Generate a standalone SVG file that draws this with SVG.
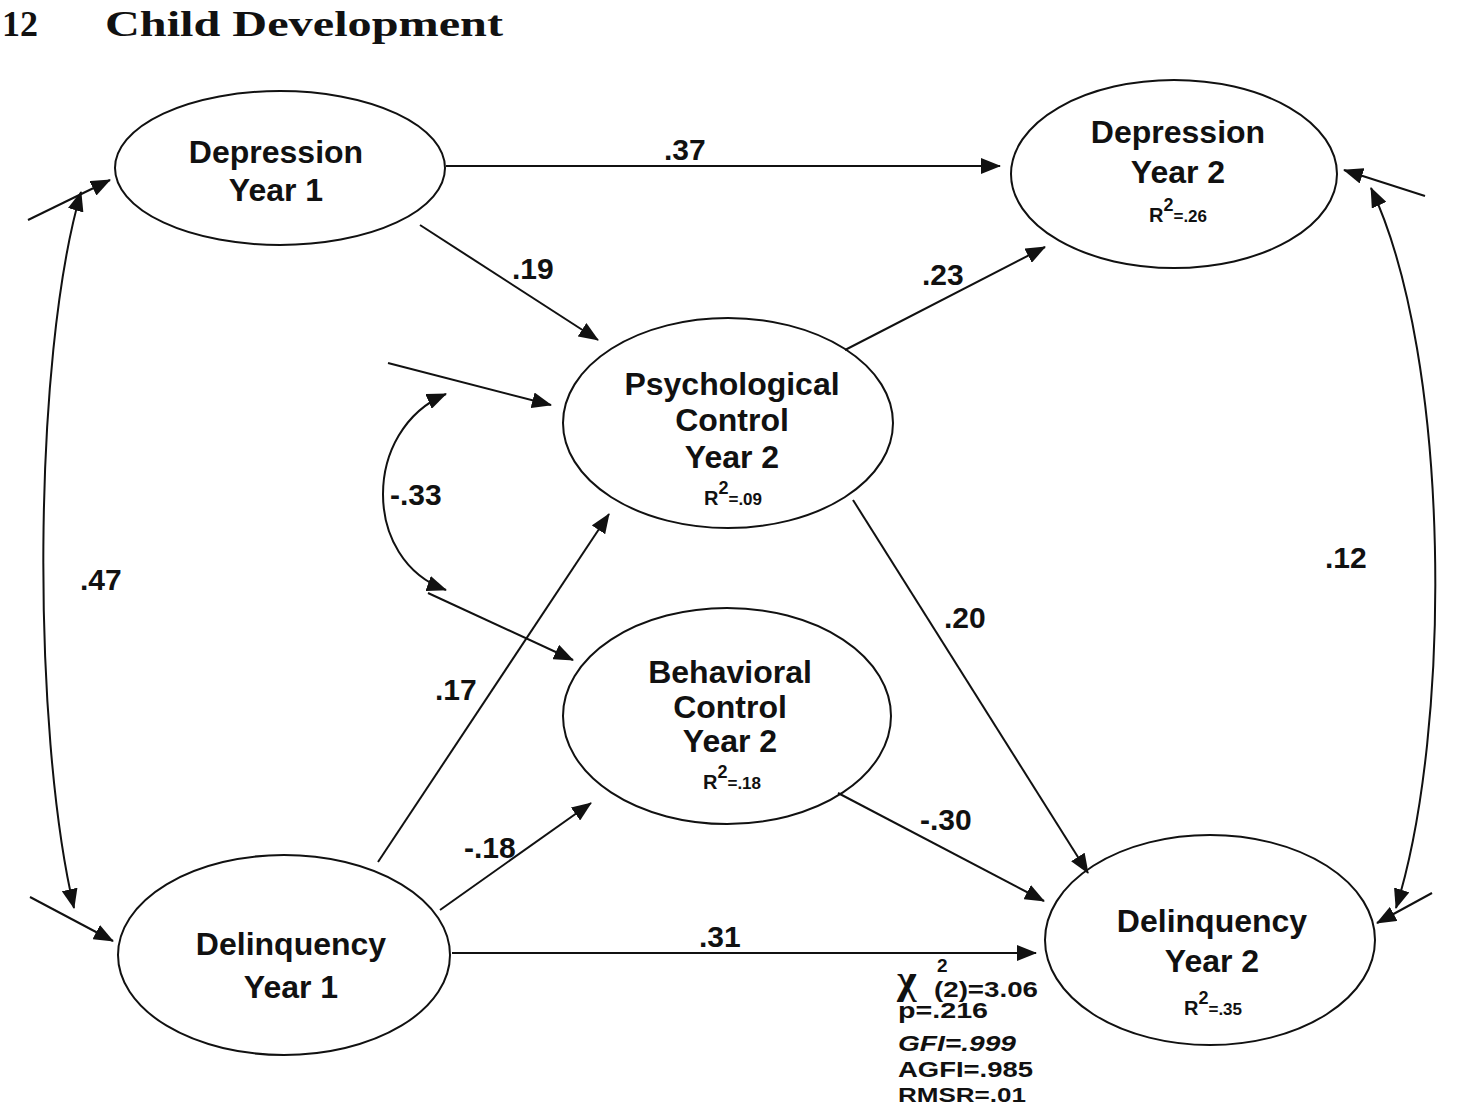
<svg xmlns="http://www.w3.org/2000/svg" width="1459" height="1107" viewBox="0 0 1459 1107">
<style>
.node ellipse{fill:none;stroke:#111;stroke-width:2}
.nt{font-family:"Liberation Sans",Arial,sans-serif;font-weight:bold;font-size:32px;fill:#111;text-anchor:middle}
.r2{font-family:"Liberation Sans",Arial,sans-serif;font-weight:bold;font-size:20px;fill:#111;text-anchor:middle}
.lbl{font-family:"Liberation Sans",Arial,sans-serif;font-weight:bold;font-size:30px;fill:#111}
.st{font-family:"Liberation Sans",Arial,sans-serif;font-weight:bold;font-size:22px;fill:#111}
.chi{font-family:"Liberation Serif","Times New Roman",serif;font-weight:bold;font-size:42px;fill:#111}
.hdr{font-family:"Liberation Serif","Times New Roman",serif;font-weight:bold;font-size:36px;fill:#111}
#connectors path,#connectors line{fill:none;stroke:#111;stroke-width:2}
</style>
<defs>
<marker id="ah" markerUnits="userSpaceOnUse" markerWidth="20" markerHeight="16" refX="19" refY="8" orient="auto-start-reverse">
<path d="M0,0 L20,8 L0,16 z" fill="#111"/>
</marker>
</defs>
<rect width="1459" height="1107" fill="#fff"/>
<text class="hdr" x="2" y="36">12</text>
<text class="hdr" x="105" y="36" textLength="398" lengthAdjust="spacingAndGlyphs">Child Development</text>

<g id="connectors">
<line x1="446" y1="166" x2="1000" y2="166" marker-end="url(#ah)"/>
<line x1="420" y1="225" x2="598" y2="340" marker-end="url(#ah)"/>
<line x1="845" y1="350" x2="1045" y2="247" marker-end="url(#ah)"/>
<line x1="388" y1="363" x2="551" y2="405" marker-end="url(#ah)"/>
<path d="M446,394 C362,430 362,560 446,590" marker-start="url(#ah)" marker-end="url(#ah)"/>
<line x1="428" y1="593" x2="573" y2="660" marker-end="url(#ah)"/>
<line x1="378" y1="862" x2="609" y2="514" marker-end="url(#ah)"/>
<line x1="440" y1="910" x2="591" y2="803" marker-end="url(#ah)"/>
<line x1="452" y1="953" x2="1036" y2="953" marker-end="url(#ah)"/>
<line x1="853" y1="500" x2="1088" y2="873" marker-end="url(#ah)"/>
<line x1="838" y1="793" x2="1044" y2="901" marker-end="url(#ah)"/>
<line x1="28" y1="220" x2="110" y2="180" marker-end="url(#ah)"/>
<line x1="30" y1="897" x2="113" y2="941" marker-end="url(#ah)"/>
<path d="M81,192 C32,360 32,730 74,908" marker-start="url(#ah)" marker-end="url(#ah)"/>
<line x1="1425" y1="196" x2="1344" y2="170" marker-end="url(#ah)"/>
<line x1="1432" y1="893" x2="1377" y2="923" marker-end="url(#ah)"/>
<path d="M1371,188 C1452,360 1452,730 1396,908" marker-start="url(#ah)" marker-end="url(#ah)"/>
</g>

<g id="dep1" class="node">
<ellipse cx="280" cy="168" rx="165" ry="77"/>
<text class="nt" x="276" y="163">Depression</text>
<text class="nt" x="276" y="201">Year 1</text>
</g>
<g id="dep2" class="node">
<ellipse cx="1174" cy="174" rx="163" ry="94"/>
<text class="nt" x="1178" y="143">Depression</text>
<text class="nt" x="1178" y="183">Year 2</text>
<text class="r2" x="1178" y="222">R<tspan dy="-11" font-size="18">2</tspan><tspan dy="11" font-size="17">=.26</tspan></text>
</g>
<g id="psych" class="node">
<ellipse cx="728" cy="423" rx="165" ry="105"/>
<text class="nt" x="732" y="395">Psychological</text>
<text class="nt" x="732" y="431">Control</text>
<text class="nt" x="732" y="468">Year 2</text>
<text class="r2" x="733" y="505">R<tspan dy="-11" font-size="18">2</tspan><tspan dy="11" font-size="17">=.09</tspan></text>
</g>
<g id="behav" class="node">
<ellipse cx="727" cy="716" rx="164" ry="108"/>
<text class="nt" x="730" y="683">Behavioral</text>
<text class="nt" x="730" y="718">Control</text>
<text class="nt" x="730" y="752">Year 2</text>
<text class="r2" x="732" y="789">R<tspan dy="-11" font-size="18">2</tspan><tspan dy="11" font-size="17">=.18</tspan></text>
</g>
<g id="delq1" class="node">
<ellipse cx="284" cy="955" rx="166" ry="100"/>
<text class="nt" x="291" y="955">Delinquency</text>
<text class="nt" x="291" y="998">Year 1</text>
</g>
<g id="delq2" class="node">
<ellipse cx="1210" cy="940" rx="165" ry="105"/>
<text class="nt" x="1212" y="932">Delinquency</text>
<text class="nt" x="1212" y="972">Year 2</text>
<text class="r2" x="1213" y="1015">R<tspan dy="-11" font-size="18">2</tspan><tspan dy="11" font-size="17">=.35</tspan></text>
</g>

<g id="labels">
<text class="lbl" x="664" y="160">.37</text>
<text class="lbl" x="512" y="279">.19</text>
<text class="lbl" x="922" y="285">.23</text>
<text class="lbl" x="390" y="505">-.33</text>
<text class="lbl" x="80" y="590">.47</text>
<text class="lbl" x="1325" y="568">.12</text>
<text class="lbl" x="944" y="628">.20</text>
<text class="lbl" x="435" y="700">.17</text>
<text class="lbl" x="920" y="830">-.30</text>
<text class="lbl" x="464" y="858">-.18</text>
<text class="lbl" x="699" y="947">.31</text>
</g>

<g id="stats">
<text class="chi" x="897" y="993">χ</text>
<text class="st" x="937" y="972" style="font-size:19px">2</text>
<text class="st" x="934" y="997" textLength="104" lengthAdjust="spacingAndGlyphs">(2)=3.06</text>
<text class="st" x="898" y="1018" textLength="90" lengthAdjust="spacingAndGlyphs">p=.216</text>
<text class="st" x="898" y="1051" font-style="italic" textLength="118" lengthAdjust="spacingAndGlyphs">GFI=.999</text>
<text class="st" x="898" y="1077" textLength="135" lengthAdjust="spacingAndGlyphs">AGFI=.985</text>
<text class="st" x="898" y="1102" style="font-size:20px" textLength="128" lengthAdjust="spacingAndGlyphs">RMSR=.01</text>
</g>
</svg>
